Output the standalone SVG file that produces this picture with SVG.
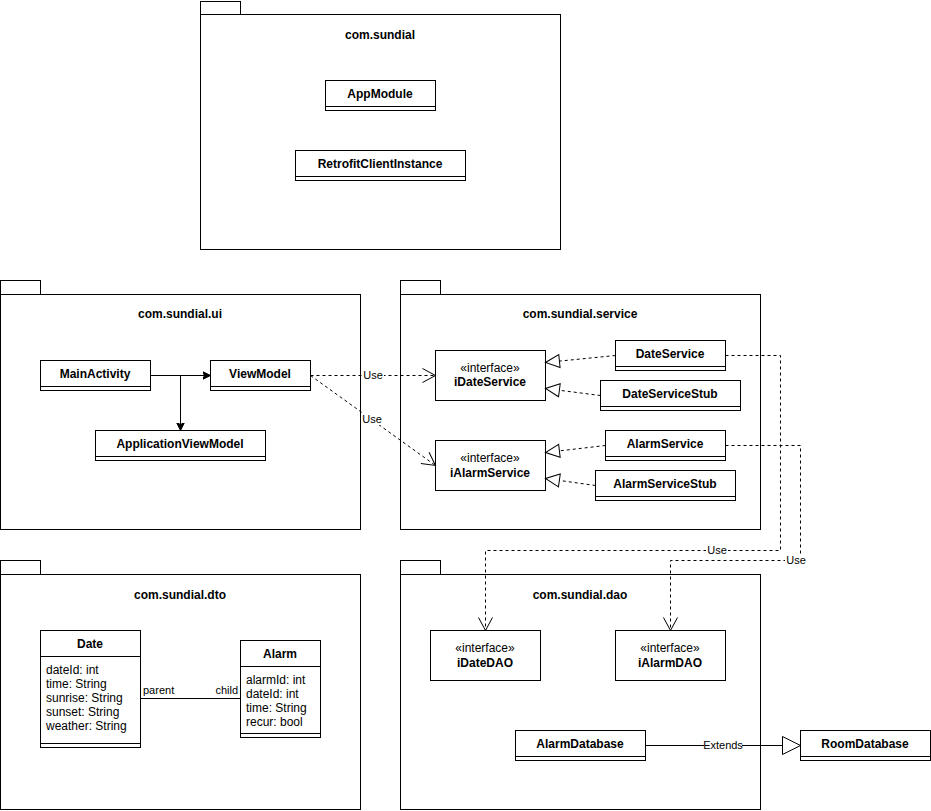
<svg xmlns="http://www.w3.org/2000/svg" width="931" height="811" viewBox="0 0 931 811">
<style>
.pk{fill:#fff;stroke:#000;stroke-width:1}
.bx{fill:#fff;stroke:#000;stroke-width:1}
.ln{fill:none;stroke:#000;stroke-width:1}
.dash{fill:none;stroke:#000;stroke-width:1;stroke-dasharray:3 3}
text{font-family:"Liberation Sans",Arial,Helvetica,sans-serif;font-size:12px;fill:#000}
.b{font-weight:bold}
.c{text-anchor:middle}
.lbl{font-size:11px}
.lb{fill:#fff;stroke:none}
</style>
<defs>
<marker id="block" markerUnits="userSpaceOnUse" markerWidth="8" markerHeight="10" refX="8" refY="5" orient="auto">
<path d="M0,1 L8,5 L0,9 L2,5 Z" fill="#000" stroke="#000" stroke-width="1"/>
</marker>
<marker id="open" markerUnits="userSpaceOnUse" markerWidth="16" markerHeight="18" refX="14" refY="8" orient="auto">
<path d="M1,1 L14,8 L1,15" fill="none" stroke="#000" stroke-width="1"/>
</marker>
<marker id="tri" markerUnits="userSpaceOnUse" markerWidth="16" markerHeight="16" refX="15" refY="8" orient="auto">
<path d="M1,1.5 L15,8 L1,14.5 Z" fill="#fff" stroke="#000" stroke-width="1"/>
</marker>
<marker id="tribig" markerUnits="userSpaceOnUse" markerWidth="20" markerHeight="20" refX="19" refY="10" orient="auto">
<path d="M1,1 L19,10 L1,19 Z" fill="#fff" stroke="#000" stroke-width="1"/>
</marker>
</defs>

<!-- packages -->
<g id="pkg-sundial">
<rect class="pk" x="200.5" y="1.5" width="40" height="13"/>
<rect class="pk" x="200.5" y="14.5" width="360" height="235"/>
<text class="b c" x="380" y="39">com.sundial</text>
</g>
<g id="pkg-ui">
<rect class="pk" x="0.5" y="280.5" width="40" height="14"/>
<rect class="pk" x="0.5" y="294.5" width="360" height="235"/>
<text class="b c" x="180" y="318">com.sundial.ui</text>
</g>
<g id="pkg-service">
<rect class="pk" x="400.5" y="280.5" width="40" height="14"/>
<rect class="pk" x="400.5" y="294.5" width="360" height="235"/>
<text class="b c" x="580" y="318">com.sundial.service</text>
</g>
<g id="pkg-dto">
<rect class="pk" x="0.5" y="560.5" width="40" height="14"/>
<rect class="pk" x="0.5" y="574.5" width="360" height="235"/>
<text class="b c" x="180" y="599">com.sundial.dto</text>
</g>
<g id="pkg-dao">
<rect class="pk" x="400.5" y="560.5" width="40" height="14"/>
<rect class="pk" x="400.5" y="574.5" width="360" height="235"/>
<text class="b c" x="580" y="599">com.sundial.dao</text>
</g>

<!-- classes -->
<g id="AppModule">
<rect class="bx" x="325.5" y="80.5" width="110" height="30"/>
<line class="ln" x1="325.5" y1="106.5" x2="435.5" y2="106.5"/>
<text class="b c" x="380" y="98">AppModule</text>
</g>
<g id="RetrofitClientInstance">
<rect class="bx" x="295.5" y="150.5" width="170" height="30"/>
<line class="ln" x1="295.5" y1="176.5" x2="465.5" y2="176.5"/>
<text class="b c" x="380" y="168">RetrofitClientInstance</text>
</g>
<g id="MainActivity">
<rect class="bx" x="40.5" y="360.5" width="110" height="30"/>
<line class="ln" x1="40.5" y1="386.5" x2="150.5" y2="386.5"/>
<text class="b c" x="95" y="378">MainActivity</text>
</g>
<g id="ViewModel">
<rect class="bx" x="210.5" y="360.5" width="100" height="30"/>
<line class="ln" x1="210.5" y1="386.5" x2="310.5" y2="386.5"/>
<text class="b c" x="260" y="378">ViewModel</text>
</g>
<g id="ApplicationViewModel">
<rect class="bx" x="95.5" y="430.5" width="170" height="30"/>
<line class="ln" x1="95.5" y1="456.5" x2="265.5" y2="456.5"/>
<text class="b c" x="180" y="448">ApplicationViewModel</text>
</g>
<g id="iDateService">
<rect class="bx" x="435.5" y="350.5" width="110" height="50"/>
<text class="c" x="490" y="372">«interface»</text>
<text class="b c" x="490" y="386">iDateService</text>
</g>
<g id="iAlarmService">
<rect class="bx" x="435.5" y="440.5" width="110" height="50"/>
<text class="c" x="490" y="462">«interface»</text>
<text class="b c" x="490" y="477">iAlarmService</text>
</g>
<g id="DateService">
<rect class="bx" x="615.5" y="340.5" width="110" height="30"/>
<line class="ln" x1="615.5" y1="366.5" x2="725.5" y2="366.5"/>
<text class="b c" x="670" y="358">DateService</text>
</g>
<g id="DateServiceStub">
<rect class="bx" x="600.5" y="380.5" width="140" height="30"/>
<line class="ln" x1="600.5" y1="406.5" x2="740.5" y2="406.5"/>
<text class="b c" x="670" y="398">DateServiceStub</text>
</g>
<g id="AlarmService">
<rect class="bx" x="605.5" y="430.5" width="120" height="30"/>
<line class="ln" x1="605.5" y1="456.5" x2="725.5" y2="456.5"/>
<text class="b c" x="665" y="448">AlarmService</text>
</g>
<g id="AlarmServiceStub">
<rect class="bx" x="595.5" y="470.5" width="140" height="30"/>
<line class="ln" x1="595.5" y1="496.5" x2="735.5" y2="496.5"/>
<text class="b c" x="665" y="488">AlarmServiceStub</text>
</g>
<g id="Date">
<rect class="bx" x="40.5" y="630.5" width="100" height="117"/>
<line class="ln" x1="40.5" y1="656.5" x2="140.5" y2="656.5"/>
<line class="ln" x1="40.5" y1="743.5" x2="140.5" y2="743.5"/>
<text class="b c" x="90" y="648">Date</text>
<text x="46" y="674">dateId: int</text>
<text x="46" y="688">time: String</text>
<text x="46" y="702">sunrise: String</text>
<text x="46" y="716">sunset: String</text>
<text x="46" y="730">weather: String</text>
</g>
<g id="Alarm">
<rect class="bx" x="240.5" y="640.5" width="80" height="97"/>
<line class="ln" x1="240.5" y1="666.5" x2="320.5" y2="666.5"/>
<line class="ln" x1="240.5" y1="733.5" x2="320.5" y2="733.5"/>
<text class="b c" x="280" y="658">Alarm</text>
<text x="246" y="684">alarmId: int</text>
<text x="246" y="698">dateId: int</text>
<text x="246" y="712">time: String</text>
<text x="246" y="726">recur: bool</text>
</g>
<g id="iDateDAO">
<rect class="bx" x="430.5" y="630.5" width="110" height="50"/>
<text class="c" x="485" y="652">«interface»</text>
<text class="b c" x="485" y="667">iDateDAO</text>
</g>
<g id="iAlarmDAO">
<rect class="bx" x="615.5" y="630.5" width="110" height="50"/>
<text class="c" x="670" y="652">«interface»</text>
<text class="b c" x="670" y="667">iAlarmDAO</text>
</g>
<g id="AlarmDatabase">
<rect class="bx" x="515.5" y="730.5" width="130" height="30"/>
<line class="ln" x1="515.5" y1="756.5" x2="645.5" y2="756.5"/>
<text class="b c" x="580" y="748">AlarmDatabase</text>
</g>
<g id="RoomDatabase">
<rect class="bx" x="800.5" y="730.5" width="130" height="30"/>
<line class="ln" x1="800.5" y1="756.5" x2="930.5" y2="756.5"/>
<text class="b c" x="865" y="748">RoomDatabase</text>
</g>

<!-- connectors -->
<g id="connectors">
<path class="ln" d="M150.5,375.5 L210.5,375.5" marker-end="url(#block)"/>
<path class="ln" d="M150.5,375.5 L180.5,375.5 L180.5,430.5" marker-end="url(#block)"/>

<path class="dash" d="M310.5,375.5 L435.5,375.5" marker-end="url(#open)"/>
<rect class="lb" x="362" y="369" width="22" height="12"/>
<text class="lbl c" x="373" y="379">Use</text>
<path class="dash" d="M310.5,375.5 L435.5,465.5" marker-end="url(#open)"/>
<rect class="lb" x="361" y="413" width="22" height="12"/>
<text class="lbl c" x="372" y="423">Use</text>

<path class="dash" d="M615.5,355.5 L545.5,362.5" marker-end="url(#tri)"/>
<path class="dash" d="M600.5,395.5 L545.5,388.5" marker-end="url(#tri)"/>
<path class="dash" d="M605.5,445.5 L545.5,452.5" marker-end="url(#tri)"/>
<path class="dash" d="M595.5,485.5 L545.5,478.5" marker-end="url(#tri)"/>

<path class="dash" d="M725.5,355.5 L780.5,355.5 L780.5,550.5 L485.5,550.5 L485.5,630.5" marker-end="url(#open)"/>
<rect class="lb" x="706" y="544" width="22" height="12"/>
<text class="lbl c" x="717" y="554">Use</text>
<path class="dash" d="M725.5,445.5 L800.5,445.5 L800.5,560.5 L670.5,560.5 L670.5,630.5" marker-end="url(#open)"/>
<rect class="lb" x="785" y="554" width="22" height="12"/>
<text class="lbl c" x="796" y="564">Use</text>

<path class="ln" d="M645.5,745.5 L800.5,745.5" marker-end="url(#tribig)"/>
<rect class="lb" x="704" y="739" width="38" height="12"/>
<text class="lbl c" x="723" y="749">Extends</text>

<path class="ln" d="M140.5,698.5 L240.5,698.5"/>
<text class="lbl" x="143" y="694">parent</text>
<text class="lbl" x="238" y="694" text-anchor="end">child</text>
</g>
</svg>
